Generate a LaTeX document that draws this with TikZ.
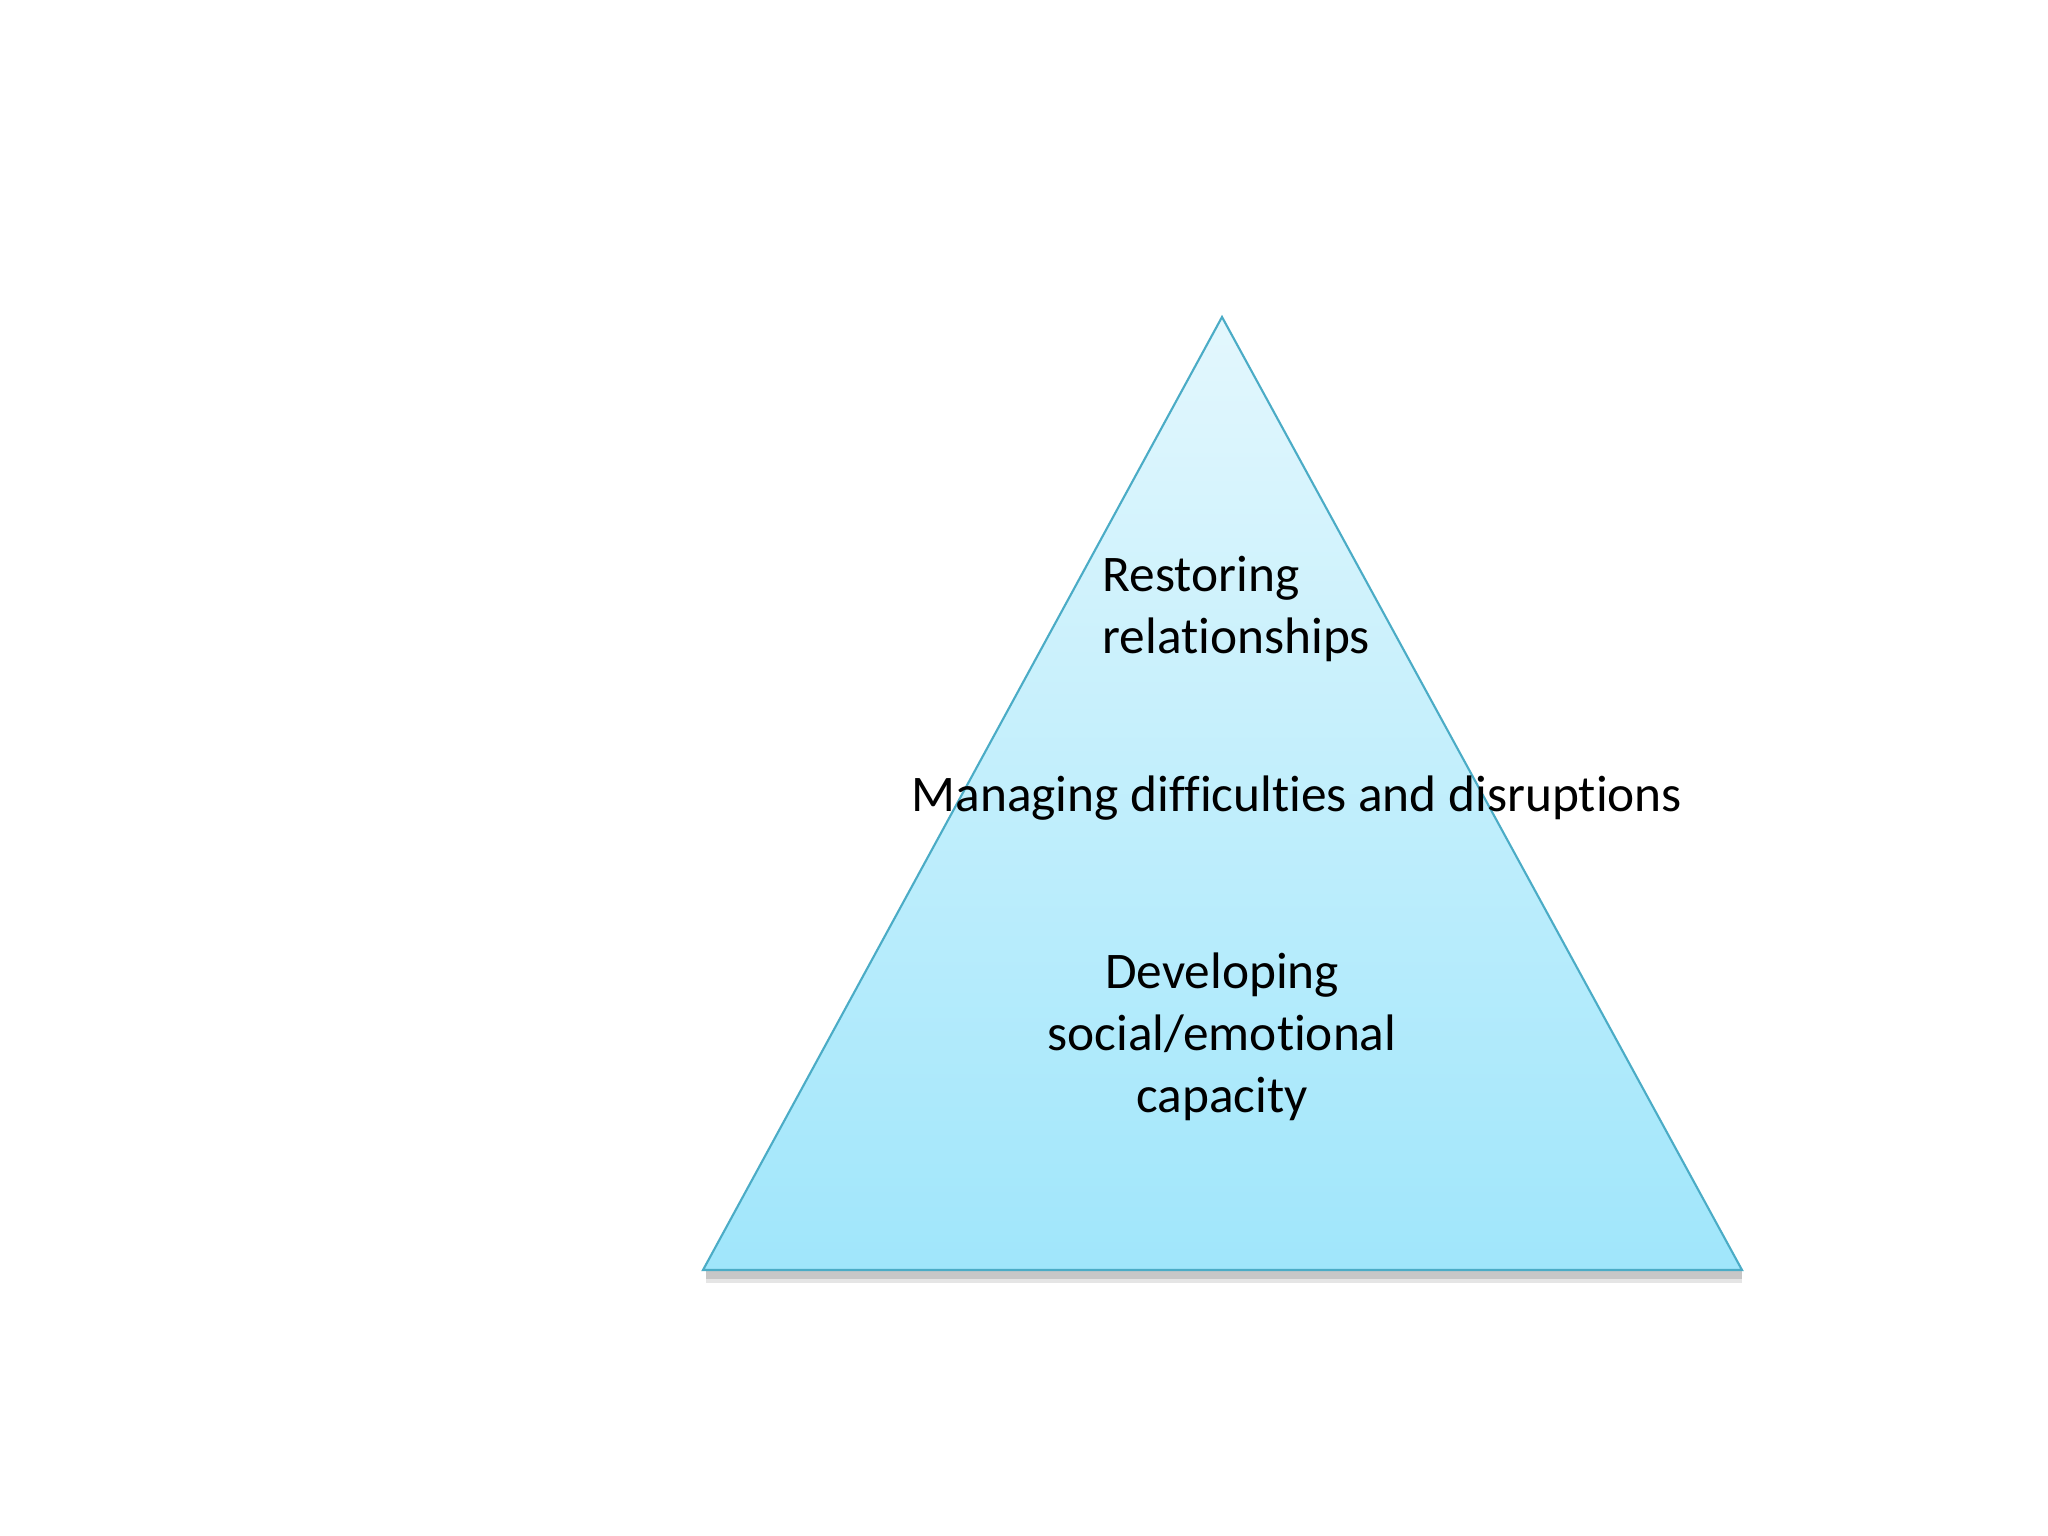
\documentclass[tikz,border=0pt]{standalone}
\usepackage{fontspec}
\setmainfont[Ligatures=NoCommon]{Carlito}
\usepackage{tikz}
\definecolor{pyrtop}{HTML}{E3F7FD}
\definecolor{pyrbot}{HTML}{A0E6FB}
\definecolor{pyrline}{HTML}{4BACC6}
\tikzset{
  layertext/.style = {inner sep=0pt, font=\fontsize{14.6}{17.6}\selectfont, text=black},
  pyramid/.style = {draw=pyrline, line width=0.6pt, top color=pyrtop, bottom color=pyrbot},
}

\begin{document}
\begin{tikzpicture}[x=0.01cm, y=-0.01cm]
\useasboundingbox (0,0) rectangle (2048,1536);
\fill[white] (0,0) rectangle (2048,1536);
% shadow under the base
\fill[black!22] (706,1270) rectangle (1742,1279);
\fill[black!10] (706,1279) rectangle (1742,1283);
\coordinate (top) at (1222,317);
\coordinate (left) at (703,1270);
\coordinate (right) at (1742,1270);
\draw[pyramid] (top) -- (right) -- (left) -- cycle;
\node [layertext, align=left, anchor=west] (restore) at (1102,609) {Restoring\\relationships};
\node [layertext] (manage) at (1297,798) {Managing difficulties and disruptions};
\node [layertext, align=center] (develop) at (1222,1037) {Developing\\social/emotional\\capacity};
\end{tikzpicture}
\end{document}
